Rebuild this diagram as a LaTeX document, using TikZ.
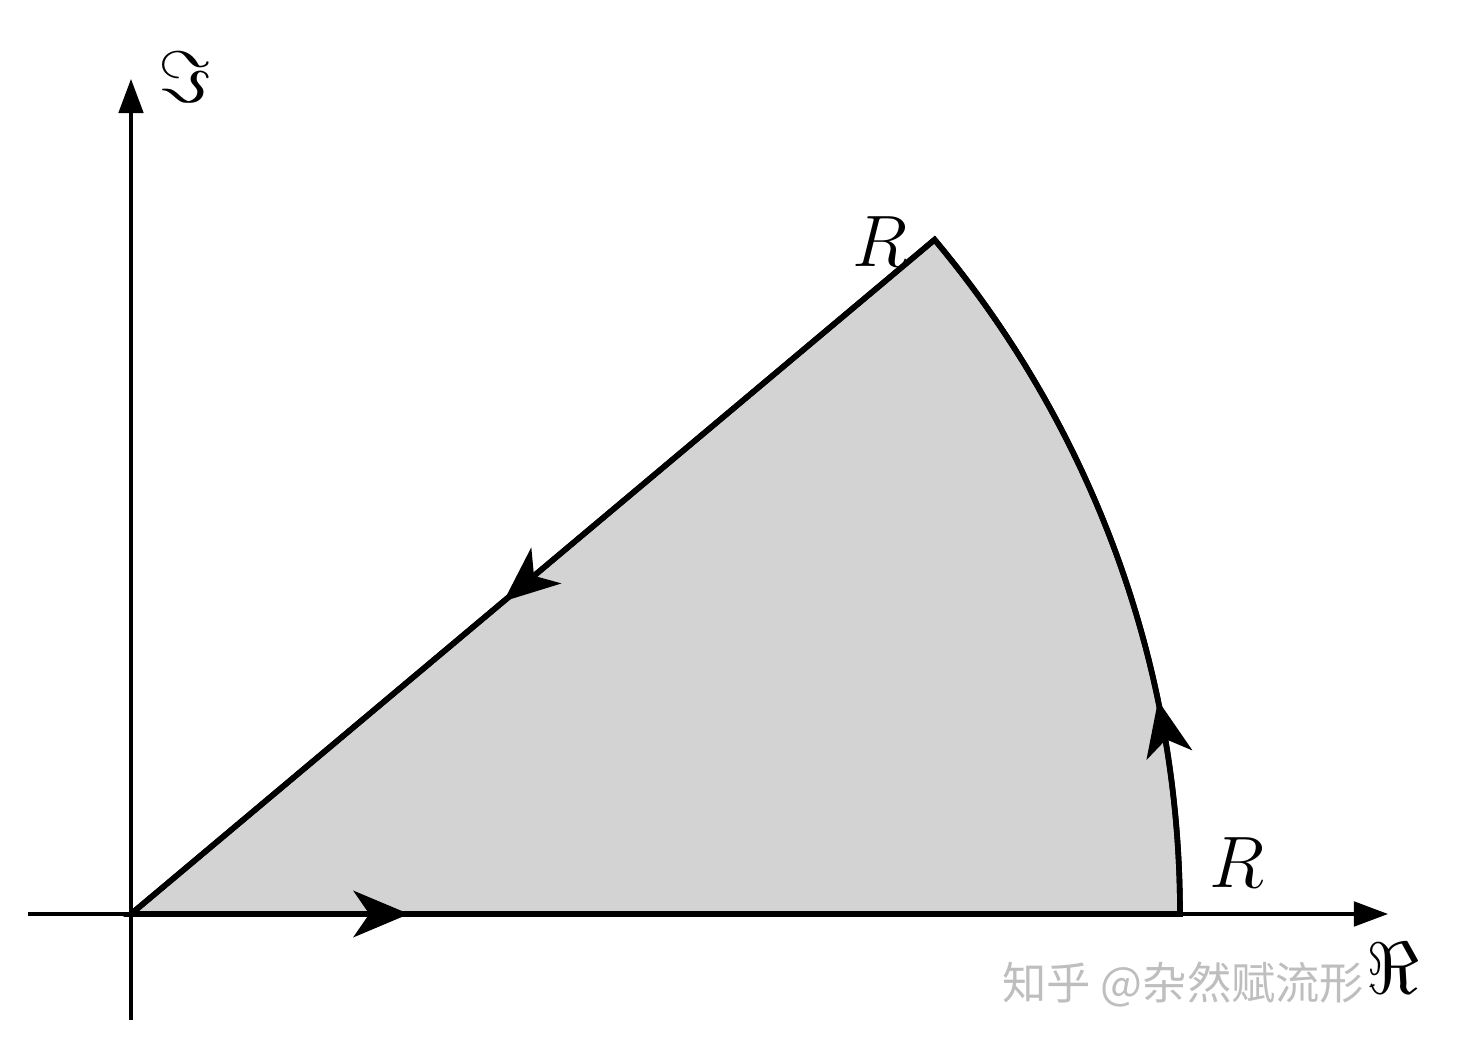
\documentclass[tikz,border=0pt]{standalone}
\usepackage{fontspec}
\newfontfamily\cjk{Noto Sans CJK SC}
\usetikzlibrary{arrows.meta,decorations.markings}
\definecolor{sectorgray}{RGB}{211,211,211}
\definecolor{wmgray}{RGB}{190,190,190}
\begin{document}
\begin{tikzpicture}[
  axisline/.style={line width=0.9pt, -{Triangle[length=9.7pt,width=7pt]}},
  contour/.style={line width=1.6pt, line join=miter},
  flowarrows/.style={postaction={decorate}, decoration={markings,
     mark=at position 2.78cm with {\arrow{Stealth[length=15.8pt,width=13.2pt,inset=4.5pt]}},
     mark=at position 12.64cm with {\arrow{Stealth[length=15.8pt,width=13.2pt,inset=4.5pt]}},
     mark=at position 23.44cm with {\arrow{Stealth[length=15.8pt,width=13.2pt,inset=4.5pt]}}}},
  lbl/.style={font=\fontsize{20}{24}\selectfont, inner sep=0pt}
]
\useasboundingbox (-1.31,-1.29) rectangle (13.30,9.14);
\coordinate (O) at (0,0);
\coordinate (A) at (10.49,0);
\coordinate (B) at (40:10.49);
\coordinate (xl) at (-1.03,0);
\coordinate (xr) at (12.57,0);
\coordinate (yb) at (0,-1.06);
\coordinate (yt) at (0,8.35);
\fill[sectorgray] (O) -- (A) arc[start angle=0,end angle=40,radius=10.49] -- cycle;
\draw[axisline] (xl) -- (xr);
\draw[axisline] (yb) -- (yt);
\draw[contour, flowarrows] (O) -- (A) arc[start angle=0,end angle=40,radius=10.49] -- (O);
\draw[contour] (O) -- (A) arc[start angle=0,end angle=40,radius=10.49] -- cycle;
\node[lbl] (rtop) at (7.49,6.72) {$R$};
\node[lbl] (rbot) at (11.06,0.51) {$R$};
\node[lbl] (imlbl) at (0.54,8.37) {$\Im$};
\node[font=\cjk\fontsize{12.6}{15}\selectfont, text=wmgray, anchor=east, inner sep=0pt] (wm) at (12.34,-0.71) {知乎 @杂然赋流形};
\node[lbl] (relbl) at (12.62,-0.54) {$\Re$};
\end{tikzpicture}
\end{document}
